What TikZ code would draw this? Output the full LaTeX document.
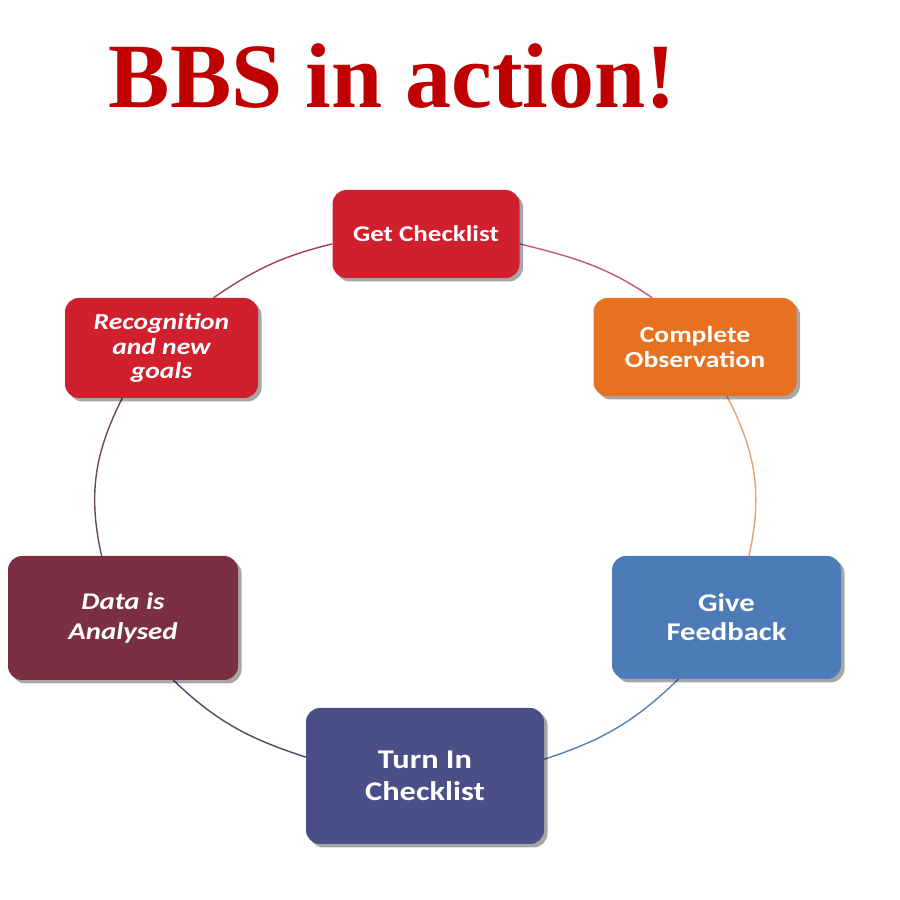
\documentclass[tikz,border=0pt]{standalone}
\usepackage{fontspec}
\newfontfamily\titlefont{Liberation Serif}
\newfontfamily\boxfont[FakeStretch=1.2]{Carlito}
\usetikzlibrary{shadows,backgrounds}
\definecolor{titlered}{HTML}{C00000}
\definecolor{boxred}{HTML}{D0202E}
\definecolor{boxorange}{HTML}{E8711F}
\definecolor{boxblue}{HTML}{4C7BB8}
\definecolor{boxnavy}{HTML}{4A4F87}
\definecolor{boxmaroon}{HTML}{7A3042}
\definecolor{arcA}{HTML}{C2587A}
\definecolor{arcB}{HTML}{EBA070}
\definecolor{arcC}{HTML}{5A7FB0}
\definecolor{arcD}{HTML}{4A4A6A}
\definecolor{arcE}{HTML}{6A4A5A}
\definecolor{arcF}{HTML}{A0405A}
\tikzset{
  stepbox/.style={rectangle, rounded corners=14pt, inner sep=0pt, align=center,
    text=white,
    general shadow={shadow xshift=3.5pt, shadow yshift=-3.5pt, fill=black, opacity=0.35}},
  link/.style={line width=1.4pt}
}
\begin{document}
\begin{tikzpicture}[x=1pt,y=1pt]
\useasboundingbox (0,0) rectangle (900,900);
\node[anchor=base, text=titlered, font=\titlefont\bfseries\fontsize{92}{100}\selectfont] (title) at (392.5,792) {BBS in action!};

\node[stepbox, fill=boxred, minimum width=187pt, minimum height=88pt,
  font=\boxfont\bfseries\fontsize{22.5}{26}\selectfont] (b1) at (426,666) {Get Checklist};
\node[stepbox, fill=boxorange, minimum width=203pt, minimum height=98pt,
  font=\boxfont\bfseries\fontsize{23}{25}\selectfont] (b2) at (695,553) {Complete\\Observation};
\node[stepbox, fill=boxblue, minimum width=229pt, minimum height=123pt,
  font=\boxfont\bfseries\fontsize{25.5}{29}\selectfont] (b3) at (726.5,282.5) {Give\\Feedback};
\node[stepbox, fill=boxnavy, minimum width=238pt, minimum height=136pt,
  font=\boxfont\bfseries\fontsize{27}{32}\selectfont] (b4) at (425,124) {Turn In\\Checklist};
\node[stepbox, fill=boxmaroon, minimum width=230pt, minimum height=124pt,
  font=\boxfont\bfseries\itshape\fontsize{24}{30}\selectfont] (b5) at (123,282) {Data is\\Analysed};
\node[stepbox, fill=boxred, minimum width=193pt, minimum height=100pt,
  font=\boxfont\bfseries\itshape\fontsize{23}{24.5}\selectfont] (b6) at (161.5,552) {Recognition\\and new\\goals};

\begin{pgfonlayer}{background}
\fill[white] (0,0) rectangle (900,900);
\draw[link, arcA] (b1.-6) to[out=-14.1, in=145.5] (b2.131);
\draw[link, arcB] (b2.-57) to[out=-62.5, in=77.4] (b3.70);
\draw[link, arcC] (b3.232) to[out=224.2, in=18] (b4.8.5);
\draw[link, arcD] (b4.171.5) to[out=162, in=316.1] (b5.-51);
\draw[link, arcE] (b5.109.5) to[out=102.6, in=243.1] (b6.232);
\draw[link, arcF] (b6.44.7) to[out=34.5, in=193.9] (b1.186);
\end{pgfonlayer}
\end{tikzpicture}
\end{document}
